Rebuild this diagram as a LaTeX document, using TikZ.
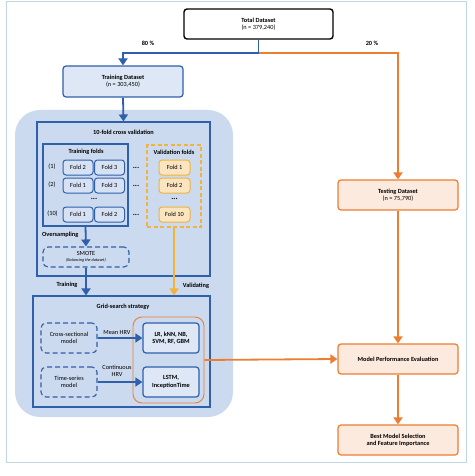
\documentclass[tikz,border=0pt]{standalone}
\usepackage{fontspec}
\setmainfont{Carlito}
\usetikzlibrary{arrows.meta}

\definecolor{myblue}{RGB}{46,96,172}
\definecolor{bluefill}{RGB}{221,231,246}
\definecolor{foldfill}{RGB}{214,226,243}
\definecolor{regionfill}{RGB}{204,218,239}
\definecolor{myorange}{RGB}{237,125,49}
\definecolor{orangefill}{RGB}{252,234,222}
\definecolor{myyellow}{RGB}{240,180,60}
\definecolor{yellowfill}{RGB}{251,229,192}
\definecolor{framecol}{RGB}{190,215,226}

\tikzset{
	txt/.style={align=center, inner sep=0pt, font=\fontsize{6.3}{7.3}\selectfont},
	dots/.style={inner sep=0pt, font=\fontsize{8}{8}\selectfont\bfseries},
	box/.style={txt, draw, rounded corners=3pt},
	dsbox/.style={box, minimum width=120pt, minimum height=30pt},
	bluebox/.style={box, draw=myblue, fill=bluefill, line width=1.2pt},
	foldbox/.style={box, draw=myblue, fill=foldfill, line width=1pt, minimum width=30pt, minimum height=15pt},
	valbox/.style={box, draw=myyellow, fill=yellowfill, line width=1pt, minimum width=31pt, minimum height=15pt},
	orangebox/.style={dsbox, draw=myorange, fill=orangefill, line width=1.2pt},
	dashbox/.style={box, draw=myblue, line width=1.1pt, dash pattern=on 5pt off 3pt, rounded corners=5pt},
	frame/.style={draw=myblue, line width=1.1pt, inner sep=0pt},
	tip/.style={-{Triangle[width=9pt,length=7pt]}},
	blueflow/.style={draw=myblue, line width=1.8pt},
	orangeflow/.style={draw=myorange, line width=1.8pt},
	yellowflow/.style={draw=myyellow, line width=1.5pt}
}

\begin{document}
\begin{tikzpicture}[x=1pt,y=-1pt]
	\useasboundingbox (0,0) rectangle (474,476);
	\draw[framecol, line width=1pt] (6,1.5) rectangle (466,462);
	\fill[regionfill, rounded corners=25pt] (15,110) rectangle (233,417);

	% datasets
	\node[dsbox, draw=black, fill=white, line width=1.4pt, minimum width=149pt] (total) at (258.5,24) {\textbf{Total Dataset}\\(n = 379,240)};
	\node[dsbox, bluebox, minimum height=31pt] (train) at (123,81.5) {\textbf{Training Dataset}\\(n = 303,450)};
	\node[orangebox] (test) at (398,195) {\textbf{Testing Dataset}\\(n = 75,790)};
	\node[orangebox] (eval) at (398,359) {\textbf{Model Performance Evaluation}};
	\node[orangebox] (best) at (398,440) {\textbf{Best Model Selection}\\\textbf{and Feature Importance}};
	\node[txt] (p80) at (148,43) {\textbf{80 \%}};
	\node[txt] (p20) at (372,43) {\textbf{20 \%}};

	% cross validation
	\node[frame, minimum width=173pt, minimum height=154pt] (cv) at (123.5,199) {};
	\node[txt] (cvtitle) at (123.5,132) {\textbf{10-fold cross validation}};
	\node[frame, minimum width=85pt, minimum height=82pt] (tf) at (85.5,185) {};
	\node[txt] (tftitle) at (86,152) {\textbf{Training folds}};
	\node[draw=myyellow, line width=1.3pt, dash pattern=on 4pt off 2.5pt, minimum width=54pt, minimum height=82pt, inner sep=0pt] (vf) at (174,186) {};
	\node[txt] (vftitle) at (174,152) {\textbf{Validation folds}};

	\node[txt] (r1) at (52,166.5) {(1)};
	\node[txt] (r2) at (52,184.5) {(2)};
	\node[txt] (r10) at (52.5,213.5) {(10)};
	\node[foldbox] (f12) at (78,167.5) {Fold 2};
	\node[foldbox] (f13) at (109.5,167.5) {Fold 3};
	\node[foldbox] (f21) at (78,185.5) {Fold 1};
	\node[foldbox] (f23) at (109.5,185.5) {Fold 3};
	\node[dots] (fdots) at (94,199) {...};
	\node[foldbox] (f101) at (78,214.5) {Fold 1};
	\node[foldbox] (f102) at (109.5,214.5) {Fold 2};
	\node[dots] (d1) at (136,168) {...};
	\node[dots] (d2) at (136,186) {...};
	\node[dots] (d10) at (136,215) {...};

	\node[valbox] (v1) at (174.5,167.5) {Fold 1};
	\node[valbox] (v2) at (174.5,185.5) {Fold 2};
	\node[dots] (vdots) at (174.5,199) {...};
	\node[valbox] (v10) at (174.5,214.5) {Fold 10};

	\node[txt, anchor=west] (over) at (42,235) {\textbf{Oversampling}};
	\node[dashbox, minimum width=86pt, minimum height=20pt] (smote) at (86,257) {SMOTE\\[-1pt]{\fontsize{4.2}{5}\selectfont\itshape (Balancing the dataset)}};

	% grid search
	\node[frame, minimum width=177pt, minimum height=111pt] (grid) at (121.5,351.5) {};
	\node[txt] (gridtitle) at (123,307) {\textbf{Grid-search strategy}};
	\node[dashbox, minimum width=56pt, minimum height=30pt] (cs) at (69,338) {Cross-sectional\\model};
	\node[dashbox, minimum width=56pt, minimum height=30pt] (ts) at (69,382) {Time-series\\model};
	\node[draw=myorange, line width=0.9pt, rounded corners=9pt, minimum width=71pt, minimum height=86pt, inner sep=0pt] (algo) at (168.5,360) {};
	\node[bluebox, minimum width=56pt, minimum height=30pt] (lr) at (171,338) {\textbf{LR, kNN, NB,}\\\textbf{SVM, RF, GBM}};
	\node[bluebox, minimum width=56pt, minimum height=30pt] (lstm) at (171,382) {\textbf{LSTM,}\\\textbf{InceptionTime}};
	\node[txt] (mean) at (117,332) {Mean HRV};
	\node[txt] (cont) at (117,371) {Continuous\\HRV};
	\node[txt] (trainlbl) at (67,285) {\textbf{Training}};
	\node[txt] (vallbl) at (196,286) {\textbf{Validating}};

	% connectors
	\coordinate (split) at (258.5,53);
	\draw[blueflow] (total.south) -- (split);
	\draw[blueflow, tip] (split) -| (train.north);
	\draw[orangeflow, tip] (split) -| (test.north);
	\draw[blueflow, tip] (train.south) -- (cv.north);
	\draw[blueflow, tip] (tf.south) -- (smote.north);
	\draw[blueflow, tip] (smote.south) -- (smote.south |- grid.north);
	\draw[yellowflow, tip] (vf.south) -- (vf.south |- grid.north);
	\draw[blueflow, line width=1.4pt, tip] (cs.east) -- (lr.west);
	\draw[blueflow, line width=1.4pt, tip] (ts.east) -- (lstm.west);
	\draw[orangeflow, tip] (algo.east) -- (eval.west);
	\draw[orangeflow, tip] (test.south) -- (eval.north);
	\draw[orangeflow, tip] (eval.south) -- (best.north);
\end{tikzpicture}
\end{document}
